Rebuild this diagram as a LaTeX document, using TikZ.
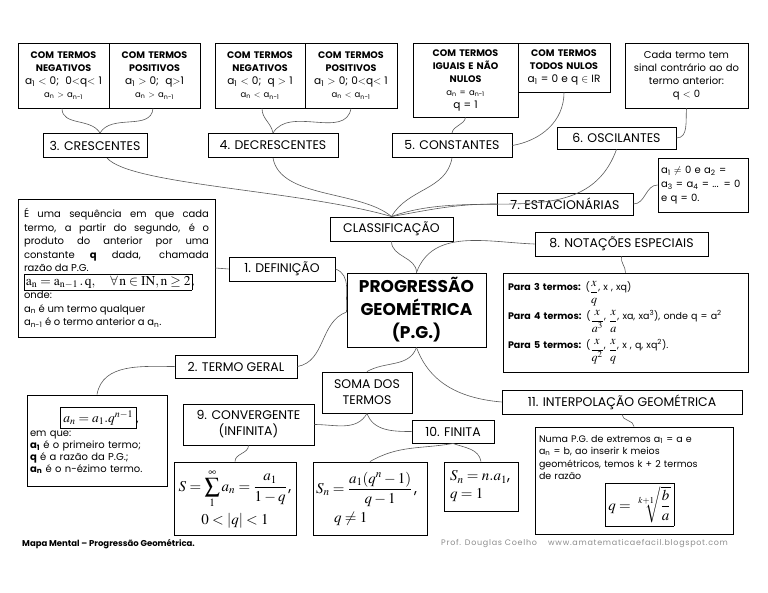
\documentclass[tikz,border=0pt]{standalone}
\usepackage{mathptmx}
\usepackage{fontspec}
\setmainfont{Poppins}
\newcommand{\idx}[1]{\textsubscript{#1}}
\newcommand{\smalltxt}{\fontsize{8.5}{10}\selectfont}
\newcommand{\fr}[2]{\raisebox{-5pt}{\fontsize{12}{14}\selectfont$\displaystyle\frac{#1}{#2}$}}
\tikzset{
  box/.style={draw, line width=0.9pt, inner xsep=3pt, inner ysep=2pt},
  lbl/.style={box, minimum height=24pt, font=\fontsize{12.5}{16}\selectfont},
  info/.style 2 args={box, text width=#1, minimum height=#2, align=center,
    font=\fontsize{9.5}{13}\selectfont},
  link/.style={draw=black!65, line width=0.6pt},
}
\begin{document}
\begin{tikzpicture}[x=1pt,y=-1pt]
\useasboundingbox (0,0) rectangle (768,593);
% top row
\node[info={85pt}{65pt}] (t1a) at (63.5,75.5) {\textbf{COM TERMOS\\NEGATIVOS}\\{\fontsize{10.5}{13}\selectfont a\idx{1} $<$ 0;\ \ 0$<$q$<$ 1}\\{\smalltxt a\idx{n} $>$ a\idx{n-1}}};
\node[info={85pt}{65pt}] (t1b) at (154.5,75.5) {\textbf{COM TERMOS\\POSITIVOS}\\{\fontsize{10.5}{13}\selectfont a\idx{1} $>$ 0;\ \ q$>$1}\\{\smalltxt a\idx{n} $>$ a\idx{n-1}}};
\node[info={84pt}{65pt}] (t2a) at (260,75.5) {\textbf{COM TERMOS\\NEGATIVOS}\\{\fontsize{10.5}{13}\selectfont a\idx{1} $<$ 0;\ \ q $>$ 1}\\{\smalltxt a\idx{n} $<$ a\idx{n-1}}};
\node[info={86pt}{65pt}] (t2b) at (351,75.5) {\textbf{COM TERMOS\\POSITIVOS}\\{\fontsize{10.5}{13}\selectfont a\idx{1} $>$ 0;\ 0$<$q$<$ 1}\\{\smalltxt a\idx{n} $<$ a\idx{n-1}}};
\node[info={99pt}{74pt}] (t3a) at (465.5,80) {\textbf{COM TERMOS\\IGUAIS E NÃO\\NULOS}\\{\smalltxt a\idx{n} = a\idx{n-1}}\\{\fontsize{10.5}{13}\selectfont q = 1}};
\node[info={86pt}{49pt}] (t3b) at (564,67.5) {\textbf{COM TERMOS\\TODOS NULOS}\\{\fontsize{10.5}{13}\selectfont a\idx{1} = 0 e q $\in$ IR}};
\node[info={117pt}{65pt}, font=\fontsize{10}{13}\selectfont] (t4) at (686.5,75.5) {Cada termo tem\\sinal contrário ao do\\termo anterior:\\q $<$ 0};
\node[info={84pt}{54pt}, align=left, font=\fontsize{10}{14}\selectfont] (stat) at (703,185) {a\idx{1} $\neq$ 0 e a\idx{2} =\\a\idx{3} = a\idx{4} = ... = 0\\e q = 0.};
% labels
\node[lbl, minimum width=104pt] (cres) at (95,145.5) {3. CRESCENTES};
\node[lbl, minimum width=130pt] (decr) at (273,145.5) {4. DECRESCENTES};
\node[lbl, minimum width=120pt] (cons) at (452,145.5) {5. CONSTANTES};
\node[lbl, minimum width=119pt, minimum height=22pt] (osc) at (616.5,138) {6. OSCILANTES};
\node[lbl, minimum width=136pt, minimum height=22pt] (est) at (565,204) {7. ESTACIONÁRIAS};
\node[lbl, minimum width=123pt] (clas) at (391.5,229) {CLASSIFICAÇÃO};
\node[lbl, minimum width=106pt] (def) at (282,269) {1. DEFINIÇÃO};
\node[lbl, minimum width=173pt] (nota) at (621.5,244) {8. NOTAÇÕES ESPECIAIS};
\node[lbl, minimum width=122pt, minimum height=23pt] (ger) at (236,366.5) {2. TERMO GERAL};
\node[lbl, minimum width=90pt, minimum height=41pt, align=center] (soma) at (367,392.5) {SOMA DOS\\TERMOS};
\node[lbl, minimum width=131pt, minimum height=41pt, align=center] (conv) at (248.5,424.5) {9. CONVERGENTE\\(INFINITA)};
\node[lbl, minimum width=82pt, minimum height=23pt] (fin) at (453,431.5) {10. FINITA};
\node[lbl, minimum width=240pt] (interp) at (622,402) {11. INTERPOLAÇÃO GEOMÉTRICA};
% center
\node[box, minimum width=139pt, minimum height=74pt, align=center, font=\fontsize{17}{23}\selectfont\bfseries] (pg) at (416.5,310) {PROGRESSÃO\\GEOMÉTRICA\\(P.G.)};
% text boxes
\node[box, inner xsep=6pt, text width=185pt, minimum height=138pt, align=justify, font=\fontsize{10}{13.5}\selectfont] (defbox) at (116.5,268) {É uma sequência em que cada\linebreak termo, a partir do segundo, é o\linebreak produto do anterior por uma\linebreak constante \textbf{q} dada, chamada\linebreak razão da P.G.\\ \setlength{\fboxsep}{1.5pt}\fbox{\fontsize{13.5}{15}\selectfont$\mathrm{a}_{\mathrm{n}}=\mathrm{a}_{\mathrm{n}-1}\,.\,\mathrm{q},\quad\forall\,\mathrm{n}\in\mathrm{IN},\mathrm{n}\geq 2$},\\ onde:\\ a\idx{n} é um termo qualquer\\ a\idx{n-1} é o termo anterior a a\idx{n}.};
\node[box, text width=134pt, minimum height=91pt, align=left, font=\fontsize{10}{12}\selectfont] (gerbox) at (97,440.5) {\hspace*{30pt}\fbox{\fontsize{13.5}{16}\selectfont$a_n=a_1.q^{n-1}$},\\[2pt] em que:\\ \textbf{a\idx{1}} é o primeiro termo;\\ \textbf{q} é a razão da P.G.;\\ \textbf{a\idx{n}} é o n-ézimo termo.};
\node[box, inner xsep=5pt, text width=235pt, minimum height=99pt, align=left, font=\fontsize{9.5}{29}\selectfont] (notbox) at (625.5,322.5) {\textbf{Para 3 termos:} (\fr{x}{q}, x , xq)\\ \textbf{Para 4 termos:} (\fr{x}{a^3}, \fr{x}{a}, xa, xa\textsuperscript{3}), onde q = a\textsuperscript{2}\\ \textbf{Para 5 termos:} (\fr{x}{q^2}, \fr{x}{q}, x , q, xq\textsuperscript{2}).};
\node[box, inner xsep=4pt, text width=190pt, minimum height=107pt, align=left, font=\fontsize{9.5}{12.5}\selectfont] (interpbox) at (634,480.5) {Numa P.G. de extremos a\idx{1} = a e\\ a\idx{n} = b, ao inserir k meios\\ geométricos, temos k + 2 termos\\ de razão\\[2pt] \hspace*{66pt}\fbox{\fontsize{15}{18}\selectfont$q=\sqrt[k+1]{\displaystyle\frac{b}{a}}$}};
\node[box, minimum width=122pt, minimum height=73pt, align=center, font=\fontsize{15}{18}\selectfont] (sbox) at (235,498.5) {$\displaystyle S=\sum_{1}^{\infty}a_n=\frac{a_1}{1-q}\,$,\\[4pt] $0<\left|q\right|<1$};
\node[box, text width=108pt, minimum height=73pt, align=left, font=\fontsize{15}{18}\selectfont] (snbox) at (370,498.5) {$\displaystyle S_n=\frac{a_1(q^n-1)}{q-1}\,$,\\[4pt] \hspace*{18pt}$q\neq 1$};
\node[box, text width=68pt, minimum height=49pt, align=left, font=\fontsize{15}{18}\selectfont] (s1box) at (481,486.5) {\hspace*{3pt}$S_n=n.a_1$,\\ \hspace*{3pt}$q=1$};
% footer
\node[anchor=west, inner sep=0, font=\fontsize{8.5}{9}\selectfont\bfseries] (foot) at (22,544) {Mapa Mental – Progressão Geométrica.};
\node[anchor=west, inner sep=0, text=black!45, font=\fontsize{8}{9}\selectfont\addfontfeatures{LetterSpace=9}] (prof) at (441,544) {Prof. Douglas Coelho};
\node[anchor=west, inner sep=0, text=black!45, font=\fontsize{8}{9}\selectfont\addfontfeatures{LetterSpace=9}] (site) at (548,544) {www.amatematicaefacil.blogspot.com};
% connectors, top row
\draw[link] ([xshift=-1.5pt]t1a.south) to[out=-90,in=120] ([xshift=5pt]cres.north);
\draw[link] ([xshift=-1.5pt]t1b.south) to[out=-95,in=60] ([xshift=5pt]cres.north);
\draw[link] ([xshift=2pt]t2a.south) to[out=-90,in=100] (decr.north);
\draw[link] (t2b.south) to[out=-100,in=60] (decr.north);
\draw[link] (t3a.south) to[out=-100,in=80] (cons.north);
\draw[link] (t3b.south) to[out=-90,in=10] (cons.east);
\draw[link] (t4.south) to[out=-95,in=0] (osc.east);
\draw[link] (stat.west) to[out=180,in=0] (est.east);
% connectors to CLASSIFICAÇÃO
\draw[link] ([xshift=12pt]cres.south) .. controls (130,185) and (300,190) .. (clas.north);
\draw[link] (decr.south) to[out=-80,in=140,looseness=0.8] (clas.north);
\draw[link] (cons.south) to[out=-100,in=60] (clas.north);
\draw[link] (osc.south) to[out=-110,in=20] (clas.north);
\draw[link] (est.west) to[out=180,in=10] (clas.north);
% connectors round the centre
\draw[link] (clas.south) to[out=-90,in=90] (pg.north);
\draw[link] (pg.north) to[out=70,in=178] (nota.west);
\draw[link] (nota.south) to[out=-100,in=90] (notbox.north);
\draw[link] (defbox.east) -- (def.west);
\draw[link] (def.east) to[out=-20,in=95] ([yshift=-2pt]pg.west);
\draw[link] (ger.east) to[out=10,in=200] ([yshift=-2pt]pg.west);
\draw[link] (ger.west) to[out=180,in=80] (gerbox.north);
\draw[link] (pg.south) to[out=-110,in=30] (soma.north);
\draw[link] (pg.south) to[out=-70,in=175] (interp.west);
\draw[link] (interp.south) to[out=-90,in=90] (interpbox.north);
% sums
\draw[link] (soma.south) to[out=-120,in=0] (conv.east);
\draw[link] (soma.south) to[out=-70,in=180] (fin.west);
\draw[link] (conv.south) to[out=-90,in=90] (sbox.north);
\draw[link] (fin.south) to[out=-170,in=30] (snbox.north);
\draw[link] (fin.south) to[out=-20,in=100] (s1box.north);
\end{tikzpicture}
\end{document}
